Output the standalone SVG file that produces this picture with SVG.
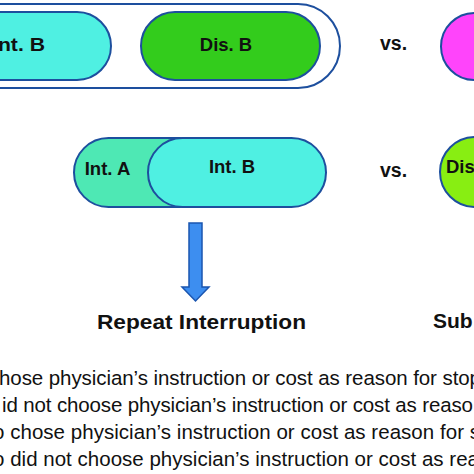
<svg xmlns="http://www.w3.org/2000/svg" width="474" height="474" viewBox="0 0 474 474">
<style>
.pill{stroke:#1d4f9e;stroke-width:2}
.lbl{font-family:"Liberation Sans",Arial,sans-serif;font-weight:bold;font-size:18.5px;fill:#111}
.vs{font-family:"Liberation Sans",Arial,sans-serif;font-weight:bold;font-size:19.5px;fill:#111}
.ttl{font-family:"Liberation Sans",Arial,sans-serif;font-weight:bold;font-size:21px;fill:#111}
.leg{font-family:"Liberation Sans",Arial,sans-serif;font-size:20.5px;fill:#111}
</style>
<rect width="474" height="474" fill="#fff"/>
<g id="group-top">
<rect x="-80" y="4" width="420" height="84" rx="42" fill="none" class="pill"/>
</g>
<g id="intB-top">
<rect x="-60" y="12" width="171" height="68" rx="34" fill="#4ff0e2" class="pill"/>
<text class="lbl" x="-8" y="51" textLength="53" lengthAdjust="spacingAndGlyphs">Int. B</text>
</g>
<g id="disB-top">
<rect x="141" y="12" width="179" height="68" rx="34" fill="#33cc1c" class="pill"/>
<text class="lbl" x="226" y="51" text-anchor="middle">Dis. B</text>
</g>
<text class="vs" x="393.5" y="50" text-anchor="middle">vs.</text>
<g id="magenta">
<rect x="441" y="13" width="80" height="67" rx="33.5" fill="#ff44fb" class="pill"/>
</g>
<g id="intA-mid">
<rect x="74" y="138" width="140" height="69" rx="34.5" fill="#4ee8b4" class="pill"/>
<text class="lbl" x="107.5" y="175" text-anchor="middle">Int. A</text>
</g>
<g id="intB-mid">
<rect x="148" y="138" width="178" height="69" rx="34.5" fill="#4ff0e2" class="pill"/>
<text class="lbl" x="232" y="173" text-anchor="middle">Int. B</text>
</g>
<text class="vs" x="393.5" y="177" text-anchor="middle">vs.</text>
<g id="lime">
<rect x="440" y="137" width="90" height="70" rx="35" fill="#88ee12" class="pill"/>
<text class="lbl" x="446" y="173">Dis</text>
</g>
<g id="connectors">
<polygon points="189,223 202,223 202,287 209,287 195.5,301 182,287 189,287" fill="#3d8ef0" stroke="#1a55b0" stroke-width="1.5"/>
</g>
<g id="labels">
<text class="ttl" x="97" y="329" textLength="209" lengthAdjust="spacingAndGlyphs">Repeat Interruption</text>
<text class="ttl" x="433" y="328">Sub</text>
</g>
<g id="legend">
<text class="leg" x="-1" y="385" textLength="482" lengthAdjust="spacing">hose physician’s instruction or cost as reason for stop</text>
<text class="leg" x="2" y="412" textLength="471" lengthAdjust="spacing">id not choose physician’s instruction or cost as reaso</text>
<text class="leg" x="-7" y="439" textLength="487" lengthAdjust="spacing">o chose physician’s instruction or cost as reason for s</text>
<text class="leg" x="-7" y="466" textLength="486" lengthAdjust="spacing">o did not choose physician’s instruction or cost as rea</text>
</g>
</svg>
